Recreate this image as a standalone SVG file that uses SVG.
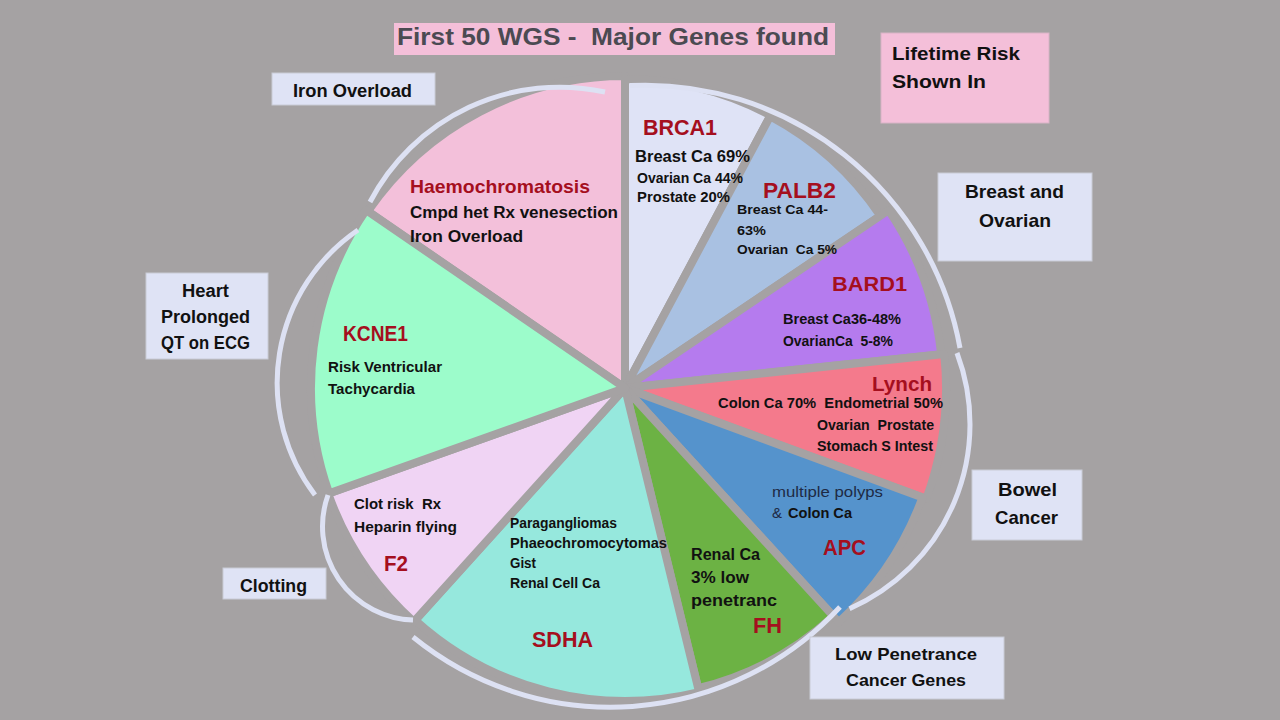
<svg xmlns="http://www.w3.org/2000/svg" width="1280" height="720" viewBox="0 0 1280 720">
<style>
.t{font-family:"Liberation Sans",Arial,sans-serif;font-weight:bold;white-space:pre;fill:#111}
.n{font-weight:normal}
.red{fill:#a50f1e}
.box{fill:#dfe3f5;stroke:#c9cbd6;stroke-width:1}
.pk{fill:#f4bfd9;stroke:#d8b3c6;stroke-width:1}
.sl{stroke:#a5a2a3;stroke-width:8;stroke-linejoin:round}
.arc{fill:none;stroke:#dde1f3;stroke-width:5}
</style>
<rect width="1280" height="720" fill="#a5a2a3"/>

<g id="title">
<rect x="394" y="23" width="441" height="32" fill="#f4bfd9"/>
<text class="t" x="397" y="45" font-size="24" style="fill:#4b4a52" textLength="432" lengthAdjust="spacingAndGlyphs">First 50 WGS -  Major Genes found</text>
</g>

<g id="legend-lifetime">
<rect class="pk" x="881" y="33" width="168" height="90"/>
<text class="t" x="892" y="60" font-size="19" textLength="128" lengthAdjust="spacingAndGlyphs">Lifetime Risk</text>
<text class="t" x="892" y="88" font-size="19" textLength="94" lengthAdjust="spacingAndGlyphs">Shown In</text>
</g>

<g id="slice-haemo"><path class="sl" fill="#f3c0da" d="M625,388 L367.9,211.3 A312,312 0 0 1 625,76 Z"/></g>
<g id="slice-brca1"><path class="sl" fill="#dfe3f6" d="M625,388 L625,79 A309,309 0 0 1 770.5,115.4 Z"/></g>
<g id="slice-palb2"><path class="sl" fill="#a9c1e2" d="M625,388 L770.1,116.3 A308,308 0 0 1 880.3,215.8 Z"/></g>
<g id="slice-bard1"><path class="sl" fill="#b57bee" d="M625,388 L888.6,210.2 A318,318 0 0 1 941.2,354.2 Z"/></g>
<g id="slice-lynch"><path class="sl" fill="#f47a8c" d="M625,388 L944.2,353.9 A321,321 0 0 1 926.3,498.8 Z"/></g>
<g id="slice-apc"><path class="sl" fill="#5593cc" d="M625,388 L922.5,497.5 A317,317 0 0 1 838.8,622.1 Z"/></g>
<g id="slice-fh"><path class="sl" fill="#6cb244" d="M625,388 L833.4,616.2 A309,309 0 0 1 698.2,688.2 Z"/></g>
<g id="slice-sdha"><path class="sl" fill="#96e8dd" d="M625,388 L699.1,692.1 A313,313 0 0 1 415.2,620.2 Z"/></g>
<g id="slice-f2"><path class="sl" fill="#f0d4f4" d="M625,388 L413.8,621.7 A315,315 0 0 1 328.2,493.7 Z"/></g>
<g id="slice-kcne1"><path class="sl" fill="#9cfccb" d="M625,388 L329.2,493.3 A314,314 0 0 1 366.2,210.1 Z"/></g>

<g id="text-haemo">
<text class="t red" x="410" y="193" font-size="19" textLength="180" lengthAdjust="spacingAndGlyphs">Haemochromatosis</text>
<text class="t" x="410" y="218" font-size="16" textLength="208" lengthAdjust="spacingAndGlyphs">Cmpd het Rx venesection</text>
<text class="t" x="410" y="242" font-size="16" textLength="113" lengthAdjust="spacingAndGlyphs">Iron Overload</text>
</g>

<g id="text-brca1">
<text class="t red" x="643" y="135" font-size="22" textLength="74" lengthAdjust="spacingAndGlyphs">BRCA1</text>
<text class="t" x="635" y="162" font-size="16" textLength="115" lengthAdjust="spacingAndGlyphs">Breast Ca 69%</text>
<text class="t" x="637" y="183" font-size="14" textLength="106" lengthAdjust="spacingAndGlyphs">Ovarian Ca 44%</text>
<text class="t" x="637" y="202" font-size="14" textLength="93" lengthAdjust="spacingAndGlyphs">Prostate 20%</text>
</g>

<g id="text-palb2">
<text class="t red" x="763" y="198" font-size="22" textLength="73" lengthAdjust="spacingAndGlyphs">PALB2</text>
<text class="t" x="737" y="214" font-size="13" textLength="91" lengthAdjust="spacingAndGlyphs">Breast Ca 44-</text>
<text class="t" x="737" y="235" font-size="13" textLength="29" lengthAdjust="spacingAndGlyphs">63%</text>
<text class="t" x="737" y="254" font-size="13" textLength="100" lengthAdjust="spacingAndGlyphs">Ovarian  Ca 5%</text>
</g>

<g id="text-bard1">
<text class="t red" x="832" y="291" font-size="21" textLength="75" lengthAdjust="spacingAndGlyphs">BARD1</text>
<text class="t" x="783" y="324" font-size="14" textLength="118" lengthAdjust="spacingAndGlyphs">Breast Ca36-48%</text>
<text class="t" x="783" y="346" font-size="14" textLength="110" lengthAdjust="spacingAndGlyphs">OvarianCa  5-8%</text>
</g>

<g id="text-lynch">
<text class="t red" x="872" y="391" font-size="21" textLength="60" lengthAdjust="spacingAndGlyphs">Lynch</text>
<text class="t" x="718" y="408" font-size="15" textLength="225" lengthAdjust="spacingAndGlyphs">Colon Ca 70%  Endometrial 50%</text>
<text class="t" x="817" y="430" font-size="15" textLength="117" lengthAdjust="spacingAndGlyphs">Ovarian  Prostate</text>
<text class="t" x="817" y="451" font-size="15" textLength="116" lengthAdjust="spacingAndGlyphs">Stomach S Intest</text>
</g>

<g id="text-apc">
<text class="t n" x="772" y="497" font-size="14" style="fill:#1e2a44" textLength="111" lengthAdjust="spacingAndGlyphs">multiple polyps</text>
<text class="t n" x="772" y="518" font-size="15" style="fill:#1e2a44">&amp;</text>
<text class="t" x="788" y="518" font-size="15" textLength="64" lengthAdjust="spacingAndGlyphs">Colon Ca</text>
<text class="t red" x="823" y="555" font-size="22" textLength="43" lengthAdjust="spacingAndGlyphs">APC</text>
</g>

<g id="text-fh">
<text class="t" x="691" y="560" font-size="16" textLength="69" lengthAdjust="spacingAndGlyphs">Renal Ca</text>
<text class="t" x="691" y="583" font-size="16" textLength="58" lengthAdjust="spacingAndGlyphs">3% low</text>
<text class="t" x="691" y="606" font-size="16" textLength="86" lengthAdjust="spacingAndGlyphs">penetranc</text>
<text class="t red" x="753" y="633" font-size="22" textLength="29" lengthAdjust="spacingAndGlyphs">FH</text>
</g>

<g id="text-sdha">
<text class="t" x="510" y="528" font-size="14" textLength="107" lengthAdjust="spacingAndGlyphs">Paragangliomas</text>
<text class="t" x="510" y="548" font-size="14" textLength="157" lengthAdjust="spacingAndGlyphs">Phaeochromocytomas</text>
<text class="t" x="510" y="568" font-size="14" textLength="26" lengthAdjust="spacingAndGlyphs">Gist</text>
<text class="t" x="510" y="588" font-size="14" textLength="90" lengthAdjust="spacingAndGlyphs">Renal Cell Ca</text>
<text class="t red" x="532" y="647" font-size="22" textLength="61" lengthAdjust="spacingAndGlyphs">SDHA</text>
</g>

<g id="text-f2">
<text class="t" x="354" y="509" font-size="15" textLength="87" lengthAdjust="spacingAndGlyphs">Clot risk  Rx</text>
<text class="t" x="354" y="532" font-size="15" textLength="103" lengthAdjust="spacingAndGlyphs">Heparin flying</text>
<text class="t red" x="384" y="571" font-size="22" textLength="24" lengthAdjust="spacingAndGlyphs">F2</text>
</g>

<g id="text-kcne1">
<text class="t red" x="343" y="341" font-size="22" textLength="65" lengthAdjust="spacingAndGlyphs">KCNE1</text>
<text class="t" x="328" y="372" font-size="15" textLength="114" lengthAdjust="spacingAndGlyphs">Risk Ventricular</text>
<text class="t" x="328" y="394" font-size="15" textLength="87" lengthAdjust="spacingAndGlyphs">Tachycardia</text>
</g>

<g id="connectors">
<path class="arc" d="M370,202 A214,214 0 0 1 605,92"/>
<path class="arc" d="M630,85.5 A320,320 0 0 1 960,348"/>
<path class="arc" d="M957,353 A201.5,201.5 0 0 1 849.5,608.7"/>
<path class="arc" d="M413,637 A313,313 0 0 0 840,607"/>
<path class="arc" d="M328,495 A93.5,93.5 0 0 0 413,620"/>
<path class="arc" d="M358,230 A185,185 0 0 0 315,495"/>
</g>

<g id="label-iron">
<rect class="box" x="272" y="73" width="163" height="32"/>
<text class="t" x="293" y="97" font-size="18" textLength="119" lengthAdjust="spacingAndGlyphs">Iron Overload</text>
</g>

<g id="label-breast">
<rect class="box" x="938" y="173" width="154" height="88"/>
<text class="t" x="965" y="198" font-size="19" textLength="99" lengthAdjust="spacingAndGlyphs">Breast and</text>
<text class="t" x="979" y="227" font-size="19" textLength="72" lengthAdjust="spacingAndGlyphs">Ovarian</text>
</g>

<g id="label-heart">
<rect class="box" x="146" y="273" width="122" height="86"/>
<text class="t" x="182" y="297" font-size="18" textLength="47" lengthAdjust="spacingAndGlyphs">Heart</text>
<text class="t" x="161" y="323" font-size="18" textLength="89" lengthAdjust="spacingAndGlyphs">Prolonged</text>
<text class="t" x="161" y="349" font-size="18" textLength="89" lengthAdjust="spacingAndGlyphs">QT on ECG</text>
</g>

<g id="label-clotting">
<rect class="box" x="223" y="568" width="103" height="31"/>
<text class="t" x="240" y="592" font-size="18" textLength="67" lengthAdjust="spacingAndGlyphs">Clotting</text>
</g>

<g id="label-bowel">
<rect class="box" x="972" y="470" width="110" height="70"/>
<text class="t" x="998" y="496" font-size="19" textLength="59" lengthAdjust="spacingAndGlyphs">Bowel</text>
<text class="t" x="995" y="524" font-size="19" textLength="63" lengthAdjust="spacingAndGlyphs">Cancer</text>
</g>

<g id="label-lowpen">
<rect class="box" x="810" y="637" width="194" height="62"/>
<text class="t" x="835" y="660" font-size="17" textLength="142" lengthAdjust="spacingAndGlyphs">Low Penetrance</text>
<text class="t" x="846" y="686" font-size="17" textLength="120" lengthAdjust="spacingAndGlyphs">Cancer Genes</text>
</g>
</svg>
